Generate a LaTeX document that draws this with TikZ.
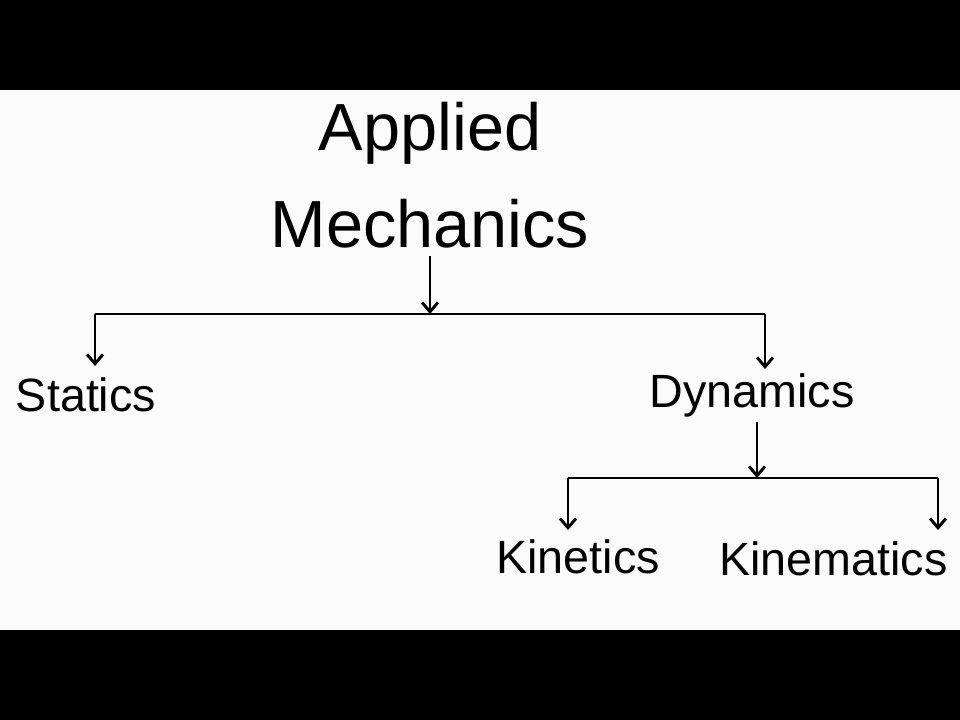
\documentclass[tikz,border=0pt]{standalone}
\usepackage{fontspec}
\setmainfont{Liberation Sans}
\usetikzlibrary{arrows.meta}
\begin{document}
\begin{tikzpicture}[x=0.75pt,y=-0.75pt,
  conn/.style={line width=2.2pt},
  arr/.style={line width=2.2pt,-{Straight Barb[length=7pt,width=12pt,line width=2.2pt]}},
  big/.style={font=\fontsize{50}{56}\selectfont,inner sep=0pt},
  mid/.style={font=\fontsize{35}{40}\selectfont,inner sep=0pt}]
\useasboundingbox (0,0) rectangle (960,720);
\fill[black] (0,0) rectangle (960,720);
\fill[white!97!gray] (0,90) rectangle (960,630);
\begin{scope}
\clip (0,90) rectangle (960,630);
\node[big] (ap) at (430,133) {Applied};
\node[big] (me) at (430,224) {Mechanics};
\node[mid] (st) at (86,395) {Statics};
\node[mid] (dy) at (752,395) {Dynamics};
\node[mid] (ki) at (578,557) {Kinetics};
\node[mid,anchor=west] (km) at (719,559) {Kinematics};
\coordinate (j1) at (430,314);
\coordinate (l1) at (95,314);
\coordinate (r1) at (765,314);
\coordinate (j2) at (757,478);
\coordinate (l2) at (568,478);
\coordinate (r2) at (938,478);
\draw[arr] (430,256) -- (j1);
\draw[conn] (l1) -- (r1);
\draw[arr] (l1) -- (95,366);
\draw[arr] (r1) -- (765,369);
\draw[arr] (757,422) -- (j2);
\draw[conn] (l2) -- (r2);
\draw[arr] (l2) -- (568,530);
\draw[arr] (r2) -- (938,530);
\end{scope}
\end{tikzpicture}
\end{document}
